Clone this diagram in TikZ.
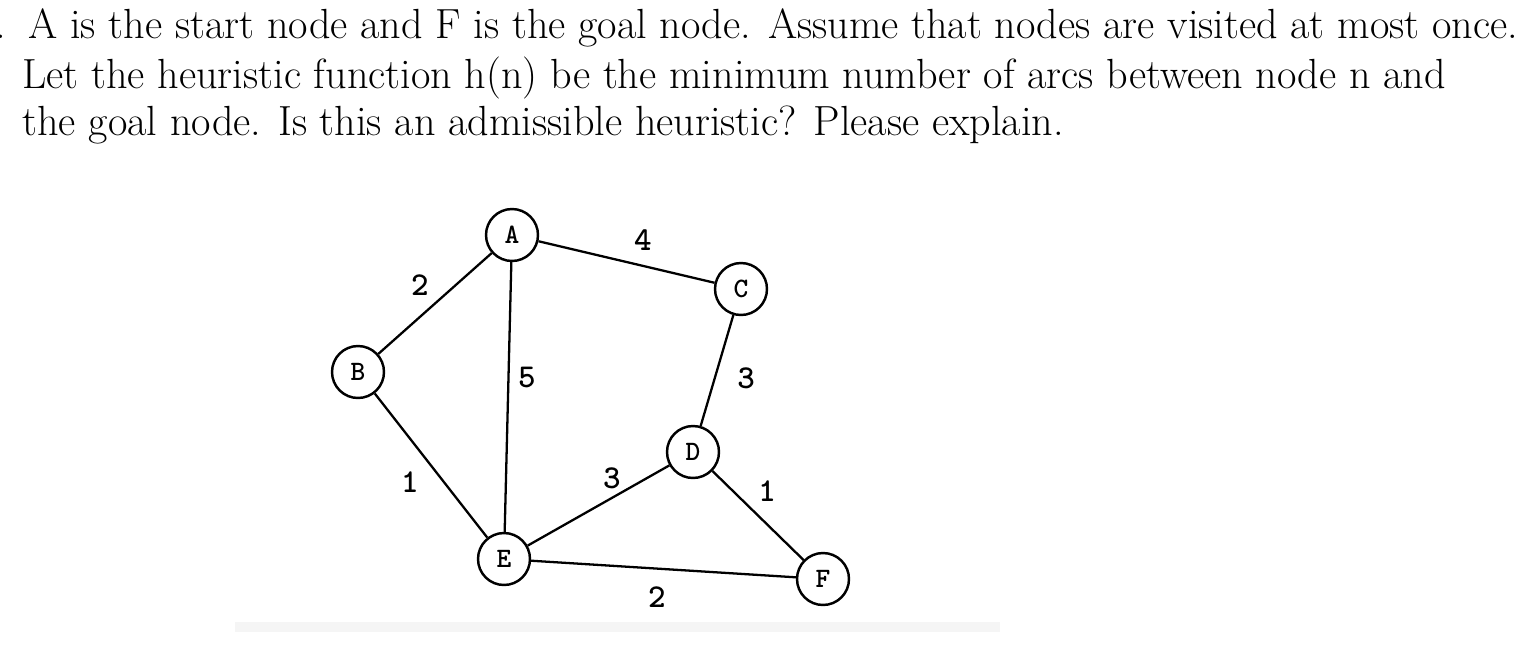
\documentclass[tikz,border=0pt]{standalone}
\usepackage{fontspec}
\begin{document}
\begin{tikzpicture}[x=0.02cm,y=-0.02cm,
  vx/.style={circle,draw,line width=1.4pt,minimum size=1.04cm,inner sep=0pt,font=\fontsize{16}{16}\ttfamily\bfseries},
  wt/.style={font=\fontsize{19}{19}\ttfamily\bfseries},
  ln/.style={anchor=base west,inner sep=0pt,font=\fontsize{24}{26}\selectfont},
  ed/.style={line width=1.3pt}]
\useasboundingbox (0,0) rectangle (1530,660);
\fill[black!4] (235,622) rectangle (1000,632);
\node[ln] (t0) at (-5,38) {.};
\node[ln] (t1) at (28,38) {A is the start node and F is the goal node. Assume that nodes are visited at most once.};
\node[ln] (t2) at (22,88) {Let the heuristic function h(n) be the minimum number of arcs between node n and};
\node[ln] (t3) at (22,135) {the goal node. Is this an admissible heuristic? Please explain.};
\node[vx] (A) at (512,235) {A};
\node[vx] (B) at (358,372) {B};
\node[vx] (C) at (741,289) {C};
\node[vx] (D) at (693,452) {D};
\node[vx] (E) at (504,559) {E};
\node[vx] (F) at (823,579) {F};
\draw[ed] (A)--(B); \draw[ed] (A)--(C); \draw[ed] (A)--(E);
\draw[ed] (B)--(E); \draw[ed] (C)--(D); \draw[ed] (D)--(E);
\draw[ed] (D)--(F); \draw[ed] (E)--(F);
\node[wt] (w1) at (643,240) {4};
\node[wt] (w2) at (420,285) {2};
\node[wt] (w3) at (527,377) {5};
\node[wt] (w4) at (746,378) {3};
\node[wt] (w5) at (410,482) {1};
\node[wt] (w6) at (612,478) {3};
\node[wt] (w7) at (767,491) {1};
\node[wt] (w8) at (657,597) {2};
\end{tikzpicture}
\end{document}
